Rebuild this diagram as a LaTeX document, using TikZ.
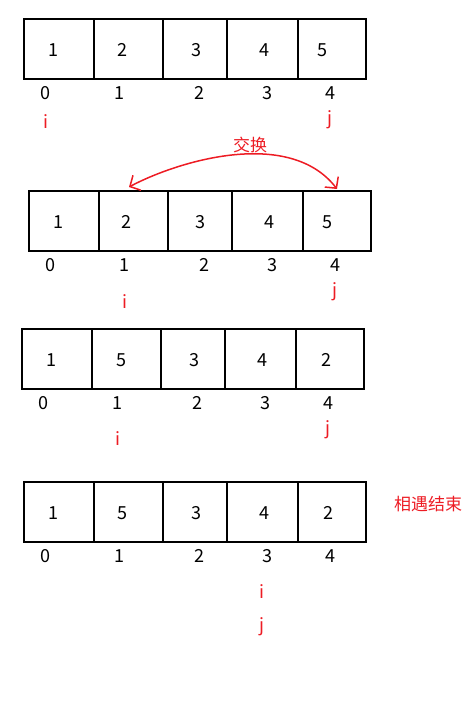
\documentclass[tikz,border=0pt]{standalone}
\usepackage{fontspec}
\setmainfont{Noto Sans CJK SC}
\usetikzlibrary{arrows.meta}
\definecolor{penred}{RGB}{237,28,36}

\begin{document}
\begin{tikzpicture}[x=1pt,y=-1pt,
   cell/.style={draw,line width=2pt,minimum height=60pt,inner sep=0pt,outer sep=0pt,anchor=north west},
   num/.style={font=\fontsize{18pt}{21pt}\selectfont,inner sep=1pt},
   ptr/.style={num,text=penred},
   swaparrow/.style={draw=penred,line width=1.5pt,
     {Straight Barb[length=8pt,width=17pt]}-{Straight Barb[length=8pt,width=17pt]}}]
\useasboundingbox (0,0) rectangle (474,711);
% four states of the array
\foreach \r/\x/\y/\vals in {1/24/19/{29/1,98/2,172/3,240/4,298/5},
                            2/29/191/{29/1,97/2,171/3,240/4,298/5},
                            3/22/329/{29/1,99/5,172/3,240/4,304/2},
                            4/24/482/{29/1,98/5,172/3,240/4,304/2}}{
  \begin{scope}[shift={(\x,\y)}]
    \foreach \k/\a/\w in {0/0/70,1/70/69,2/139/64,3/203/71,4/274/68}
      \node[cell,minimum width=\w pt] (c\r\k) at (\a,0) {};
    \foreach \vx/\v [count=\k from 0] in \vals
      \node[num] (v\r\k) at (\vx,31) {\v};
    \foreach \ix [count=\k from 0] in {21,95,175,243,306}
      \node[num] (n\r\k) at (\ix,74) {\k};
  \end{scope}
}
% pointers
\node[ptr] (i1) at (46,122) {i};
\node[ptr] (j1) at (330,120) {j};
\node[ptr] (i2) at (125,302) {i};
\node[ptr] (j2) at (335,292) {j};
\node[ptr] (i3) at (118,439) {i};
\node[ptr] (j3) at (328,430) {j};
\node[ptr] (i4) at (262,592) {i};
\node[ptr] (j4) at (262,627) {j};
% swap
\coordinate (swapL) at (129,187);
\coordinate (swapR) at (337,189);
\draw[swaparrow] (swapL) .. controls (180,160) and (290,128) .. (swapR);
\node[ptr,font=\fontsize{17pt}{20pt}\selectfont] (swaplbl) at (250,145) {交换};
\node[ptr,font=\fontsize{17pt}{20pt}\selectfont] (endlbl) at (428,504) {相遇结束};
\end{tikzpicture}
\end{document}
